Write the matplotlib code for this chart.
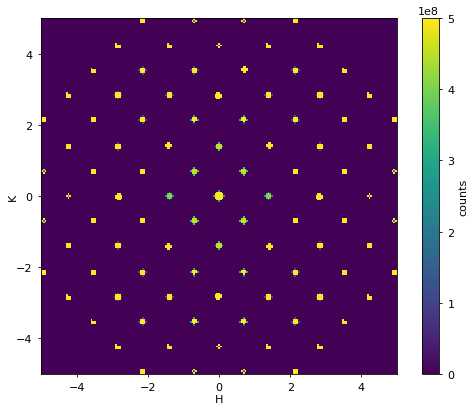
import numpy as np
import matplotlib
matplotlib.use('Agg')
import matplotlib.pyplot as plt

# lattice rows: index of K, indices of H, spot type per spot
k_rows = [7, 6, 5, 4, 3, 2, 1, 0, -1, -2, -3, -4, -5, -6, -7]
h_rows = [
    [-3, -1, 1, 3],
    [-4, -2, 0, 2, 4],
    [-5, -3, -1, 1, 3, 5],
    [-6, -4, -2, 0, 2, 4, 6],
    [-7, -5, -3, -1, 1, 3, 5, 7],
    [-6, -4, -2, 0, 2, 4, 6],
    [-7, -5, -3, -1, 1, 3, 5, 7],
    [-6, -4, -2, 0, 2, 4, 6],
    [-7, -5, -3, -1, 1, 3, 5, 7],
    [-6, -4, -2, 0, 2, 4, 6],
    [-7, -5, -3, -1, 1, 3, 5, 7],
    [-6, -4, -2, 0, 2, 4, 6],
    [-5, -3, -1, 1, 3, 5],
    [-4, -2, 0, 2, 4],
    [-3, -1, 1, 3],
]
spot_rows = [
    "sTTs",
    "ccTcc",
    "cbbSbc",
    "cbbSbbc",
    "ssbppbss",
    "sbSgSbs",
    "TssggssT",
    "TSGCGST",
    "TssggssT",
    "sbSgSbs",
    "ssbppbss",
    "cbbSbbc",
    "cbppbc",
    "ccTcc",
    "sTTs",
]

# counts per cell around the peak, one table per spot type
spot_s = [[9e8, 9e8, 9e8], [9e8, 9e8, 9e8], [9e8, 9e8, 9e8]]
spot_big = [[0, 9e8, 9e8, 0], [9e8, 9e8, 9e8, 9e8], [9e8, 9e8, 9e8, 9e8], [0, 9e8, 9e8, 0]]
spot_corner = [[9e8, 9e8, 9e8], [9e8, 9e8, 9e8], [9e8, 0, 0]]
spot_ring = [[0, 5e8, 0], [5e8, 2e8, 5e8], [0, 5e8, 0]]
spot_halo = [[0, 0, 1.2e8, 0, 0], [0, 9e8, 9e8, 9e8, 0], [1.2e8, 9e8, 9e8, 9e8, 1.2e8],
             [0, 9e8, 9e8, 9e8, 0], [0, 0, 1.2e8, 0, 0]]
spot_plus = [[0, 0, 1.5e8, 0, 0], [0, 0, 6e8, 0, 0], [3e8, 6e8, 6e8, 6e8, 3e8],
             [0, 6e8, 6e8, 6e8, 0], [0, 0, 3e8, 0, 0]]
spot_green = [[0, 0, 3.5e8, 0, 0], [0, 4.3e8, 4.7e8, 4.3e8, 0], [3.5e8, 4.7e8, 4.4e8, 4.7e8, 3.5e8],
              [0, 4.3e8, 4.7e8, 4.3e8, 0], [0, 0, 3.5e8, 0, 0]]
spot_teal = [[0, 0, 2.5e8, 0, 0], [0, 3.6e8, 4.4e8, 3.6e8, 0], [2.5e8, 4.4e8, 3.6e8, 4.4e8, 2.5e8],
             [0, 3.6e8, 4.4e8, 3.6e8, 0], [0, 0, 2.5e8, 0, 0]]
spot_centre = [[0, 0, 0, 3e8, 0, 0, 0],
               [0, 0, 4.8e8, 5e8, 4.8e8, 0, 0],
               [0, 4.8e8, 5e8, 5e8, 5e8, 4.8e8, 0],
               [3e8, 5e8, 5e8, 5e8, 5e8, 5e8, 3e8],
               [0, 4.8e8, 5e8, 5e8, 5e8, 4.8e8, 0],
               [0, 0, 4.8e8, 5e8, 4.8e8, 0, 0],
               [0, 0, 0, 3e8, 0, 0, 0]]
spot_cells = {'s': spot_s, 'S': spot_big, 'c': spot_corner, 'T': spot_ring,
              'b': spot_halo, 'p': spot_plus, 'g': spot_green, 'G': spot_teal, 'C': spot_centre}

n_cells = 201
edges = np.linspace(-5, 5, n_cells + 1)
step = 2 ** 0.5 / 2
counts = np.full((n_cells, n_cells), 2e6)
for k_i, h_list, spots in zip(k_rows, h_rows, spot_rows):
    for h_i, s in zip(h_list, spots):
        cells = np.array(spot_cells[s])
        ny, nx = cells.shape
        ix = int(round((h_i * step + 5) / 10 * n_cells - nx / 2))
        iy = int(round((k_i * step + 5) / 10 * n_cells - ny / 2))
        for a in range(ny):
            for b in range(nx):
                if 0 <= iy + a < n_cells and 0 <= ix + b < n_cells and cells[a, b] > 0:
                    counts[iy + a, ix + b] = cells[a, b]

plt.rcParams['font.size'] = 8
plt.rcParams['axes.linewidth'] = 0.6
plt.rcParams['xtick.major.size'] = 2.5
plt.rcParams['ytick.major.size'] = 2.5
plt.rcParams['xtick.major.width'] = 0.6
plt.rcParams['ytick.major.width'] = 0.6

fig = plt.figure(figsize=(4.74, 4.10), dpi=100)
ax = fig.add_axes([41 / 474, 1 - 375 / 410, 356 / 474, 356 / 410])
mesh = ax.pcolormesh(edges, edges, counts, cmap='viridis', vmin=0, vmax=5e8)
ax.set_xlim(-5, 5)
ax.set_ylim(-5, 5)
ax.set_xticks([-4, -2, 0, 2, 4])
ax.set_yticks([-4, -2, 0, 2, 4])
ax.set_xlabel('H', labelpad=1)
ax.set_ylabel('K', labelpad=-1)

cax = fig.add_axes([422 / 474, 1 - 375 / 410, 17 / 474, 356 / 410])
cb = fig.colorbar(mesh, cax=cax)
cb.set_label('counts', labelpad=3)
cb.ax.tick_params(length=2.5, width=0.6)

fig.savefig('out.png', dpi=100)
